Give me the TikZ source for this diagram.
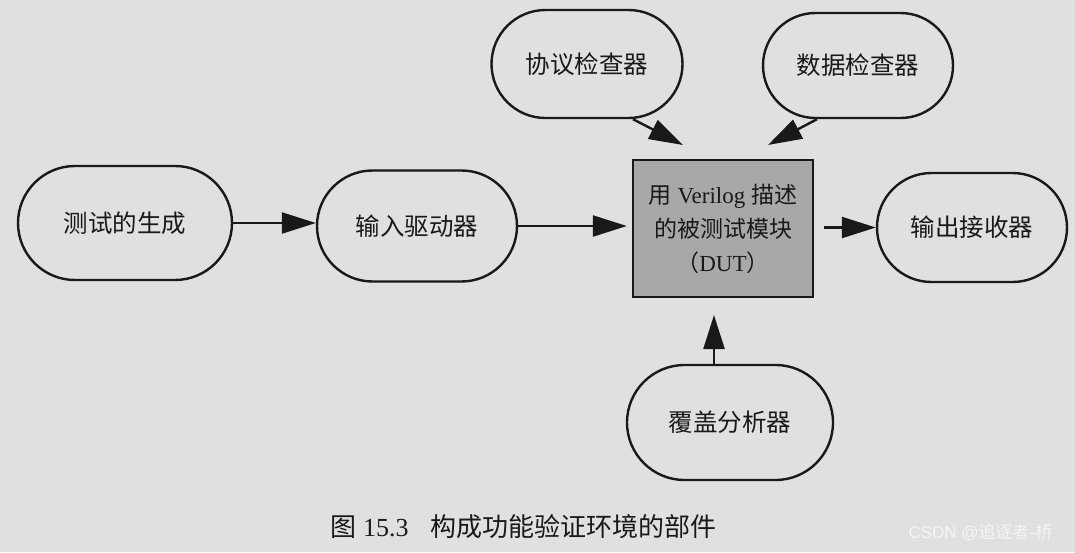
\documentclass[tikz,border=0pt]{standalone}
\usepackage{fontspec}
\setmainfont{Liberation Serif}
\newfontfamily\cjk{Noto Sans CJK SC}
\newfontfamily\wmfont{Liberation Sans}
\usetikzlibrary{arrows.meta,shapes.misc}
\definecolor{paper}{RGB}{224,224,222}
\definecolor{dutgray}{RGB}{168,168,168}
\definecolor{ink}{RGB}{25,25,25}
\definecolor{wm}{RGB}{245,245,245}
\tikzset{
  pill/.style={rounded rectangle, draw=ink, line width=2.4pt, inner sep=0pt,
    font=\cjk\fontsize{24.5}{28}\selectfont, text=ink},
  dutbox/.style={rectangle, draw=ink, line width=2.4pt, fill=dutgray,
    minimum width=180pt, minimum height=137pt, align=center,
    font=\fontsize{23}{34}\selectfont, text=ink},
  arr/.style={draw=ink, line width=2.4pt, -{Triangle[length=34pt,width=21pt]}}
}
\begin{document}
\begin{tikzpicture}[x=1pt,y=-1pt]
\useasboundingbox (0,0) rectangle (1075,552);
\fill[paper] (0,0) rectangle (1075,552);
% nodes
\node[pill, minimum width=214pt, minimum height=114pt] (gen) at (125,223) {测试的生成};
\node[pill, minimum width=200pt, minimum height=111pt] (drv) at (417,226) {输入驱动器};
\node[dutbox] (dut) at (723,228.5) {{\cjk 用} Verilog {\cjk 描述}\\{\cjk 的被测试模块}\\{\cjk （}DUT{\cjk ）}};
\node[pill, minimum width=190pt, minimum height=109pt] (out) at (972,227.5) {输出接收器};
\node[pill, minimum width=191pt, minimum height=108pt] (pro) at (587,64) {协议检查器};
\node[pill, minimum width=190pt, minimum height=105pt] (dat) at (858,65.5) {数据检查器};
\node[pill, minimum width=206pt, minimum height=115pt] (cov) at (730,422.5) {覆盖分析器};
% free ends
\coordinate (tipP) at (683,145);
\coordinate (tipD) at (768,145);
\coordinate (tipC) at (714,315);
% connectors
\draw[arr] (gen.east) -- (gen.east -| drv.west);
\draw[arr, shorten >=5pt] (drv.east) -- (drv.east -| dut.west);
\draw[arr, shorten <=10pt] (dut.east |- out.west) -- (out.west);
\draw[arr] ([xshift=46pt]pro.south) -- (tipP);
\draw[arr] ([xshift=-41pt]dat.south) -- (tipD);
\draw[arr] (cov.north -| tipC) -- (tipC);
% caption
\node[font=\fontsize{26}{30}\selectfont, text=ink, anchor=west] (cap) at (327,527)
  {{\cjk 图} 15.3\hspace{22pt}{\cjk 构成功能验证环境的部件}};
% watermark
\node[font=\wmfont\fontsize{17}{20}\selectfont, text=wm, anchor=west] (wmk) at (905,532)
  {CSDN @{\cjk 追逐者}-{\cjk 桥}};
\end{tikzpicture}
\end{document}
